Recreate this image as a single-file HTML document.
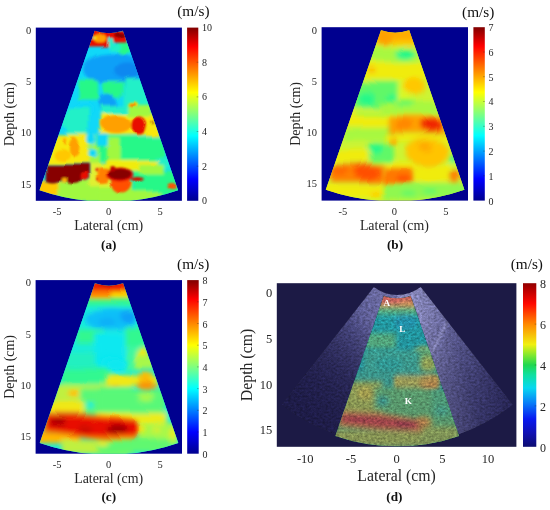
<!DOCTYPE html><html><head><meta charset="utf-8"><title>Figure</title>
<style>html,body{margin:0;padding:0;background:#fff}svg{display:block}text{font-family:'Liberation Serif', 'DejaVu Serif', serif}</style></head><body>
<svg width="550" height="510" viewBox="0 0 550 510">
<defs>
<linearGradient id="jet" x1="0" y1="1" x2="0" y2="0"><stop offset="0" stop-color="rgb(0,0,143)"/><stop offset="0.125" stop-color="rgb(0,0,255)"/><stop offset="0.375" stop-color="rgb(0,255,255)"/><stop offset="0.625" stop-color="rgb(255,255,0)"/><stop offset="0.89" stop-color="rgb(255,0,0)"/><stop offset="1" stop-color="rgb(128,0,0)"/></linearGradient>
<linearGradient id="jetd" x1="0" y1="1" x2="0" y2="0"><stop offset="0" stop-color="#0c0c70"/><stop offset="0.08" stop-color="#1010b0"/><stop offset="0.17" stop-color="#0818f0"/><stop offset="0.27" stop-color="#0880f8"/><stop offset="0.36" stop-color="#08d8f0"/><stop offset="0.44" stop-color="#10e0a0"/><stop offset="0.5" stop-color="#20d850"/><stop offset="0.56" stop-color="#80e830"/><stop offset="0.625" stop-color="#f0f010"/><stop offset="0.75" stop-color="#ff8800"/><stop offset="0.875" stop-color="#ff0800"/><stop offset="0.95" stop-color="#c00000"/><stop offset="1" stop-color="#900000"/></linearGradient><filter id="spk" x="0" y="0" width="100%" height="100%" color-interpolation-filters="sRGB"><feTurbulence type="fractalNoise" baseFrequency="0.35 0.5" numOctaves="2" seed="4" result="n"/><feColorMatrix in="n" type="matrix" values="1 0 0 0 0  1 0 0 0 0  1 0 0 0 0  0 0 0 0 1" result="g"/><feComposite in="SourceGraphic" in2="g" operator="arithmetic" k1="0.7" k2="0.66" k3="0" k4="0"/></filter><linearGradient id="bm" gradientUnits="userSpaceOnUse" x1="282" y1="0" x2="515" y2="0"><stop offset="0.000" stop-color="#44437a"/><stop offset="0.292" stop-color="#4e4e86"/><stop offset="0.399" stop-color="#5e5e96"/><stop offset="0.635" stop-color="#66669a"/><stop offset="0.807" stop-color="#56568c"/><stop offset="1.000" stop-color="#44437e"/></linearGradient><radialGradient id="bm2" gradientUnits="userSpaceOnUse" cx="397.3" cy="257" r="188"><stop offset="0.22" stop-color="#9a9ac8" stop-opacity="0.18"/><stop offset="0.45" stop-color="#8080b0" stop-opacity="0.05"/><stop offset="1" stop-color="#1c1a45" stop-opacity="0.2"/></radialGradient><linearGradient id="bm3" gradientUnits="userSpaceOnUse" x1="385" y1="330" x2="295" y2="400"><stop offset="0.1" stop-color="#1c1a45" stop-opacity="0"/><stop offset="0.35" stop-color="#1c1a45" stop-opacity="0.35"/><stop offset="0.55" stop-color="#1c1a45" stop-opacity="0.62"/><stop offset="0.8" stop-color="#1c1a45" stop-opacity="0.82"/><stop offset="1" stop-color="#1c1a45" stop-opacity="0.92"/></linearGradient><linearGradient id="bm4" gradientUnits="userSpaceOnUse" x1="435" y1="366" x2="492" y2="347"><stop offset="0" stop-color="#a8a8d8" stop-opacity="0.42"/><stop offset="0.35" stop-color="#a0a0d0" stop-opacity="0.12"/><stop offset="0.55" stop-color="#1c1a45" stop-opacity="0.0"/><stop offset="1" stop-color="#1c1a45" stop-opacity="0.38"/></linearGradient><linearGradient id="bm5" gradientUnits="userSpaceOnUse" x1="0" y1="315" x2="0" y2="445"><stop offset="0" stop-color="#1c1a45" stop-opacity="0"/><stop offset="0.5" stop-color="#1c1a45" stop-opacity="0.38"/><stop offset="1" stop-color="#1c1a45" stop-opacity="0.55"/></linearGradient><clipPath id="rhalf"><rect x="397" y="280" width="125" height="170"/></clipPath>
<filter id="b0_6" x="-20%" y="-20%" width="140%" height="140%"><feGaussianBlur stdDeviation="0.6"/></filter>
<filter id="b1" x="-20%" y="-20%" width="140%" height="140%"><feGaussianBlur stdDeviation="1"/></filter>
<filter id="b1_5" x="-20%" y="-20%" width="140%" height="140%"><feGaussianBlur stdDeviation="1.5"/></filter>
<filter id="b2" x="-20%" y="-20%" width="140%" height="140%"><feGaussianBlur stdDeviation="2"/></filter>
<filter id="b2_5" x="-20%" y="-20%" width="140%" height="140%"><feGaussianBlur stdDeviation="2.5"/></filter>
<filter id="b3" x="-20%" y="-20%" width="140%" height="140%"><feGaussianBlur stdDeviation="3"/></filter>
<filter id="b4" x="-20%" y="-20%" width="140%" height="140%"><feGaussianBlur stdDeviation="4"/></filter>
<filter id="b5" x="-20%" y="-20%" width="140%" height="140%"><feGaussianBlur stdDeviation="5"/></filter>
<filter id="warp0" filterUnits="userSpaceOnUse" x="0" y="0" width="550" height="510" color-interpolation-filters="sRGB"><feTurbulence type="fractalNoise" baseFrequency="0.028" numOctaves="1" seed="2" result="t"/><feDisplacementMap in="SourceGraphic" in2="t" scale="9" xChannelSelector="R" yChannelSelector="G"/></filter>
<filter id="warp1" filterUnits="userSpaceOnUse" x="0" y="0" width="550" height="510" color-interpolation-filters="sRGB"><feTurbulence type="fractalNoise" baseFrequency="0.028" numOctaves="1" seed="5" result="t"/><feDisplacementMap in="SourceGraphic" in2="t" scale="9" xChannelSelector="R" yChannelSelector="G"/></filter>
<filter id="warp2" filterUnits="userSpaceOnUse" x="0" y="0" width="550" height="510" color-interpolation-filters="sRGB"><feTurbulence type="fractalNoise" baseFrequency="0.028" numOctaves="1" seed="9" result="t"/><feDisplacementMap in="SourceGraphic" in2="t" scale="9" xChannelSelector="R" yChannelSelector="G"/></filter>
</defs>
<rect width="550" height="510" fill="#fff"/>
<rect x="35.8" y="27.6" width="146.1" height="173.2" fill="#00008f"/>
<clipPath id="box0"><rect x="35.8" y="27.6" width="146.1" height="173.2"/></clipPath>
<g clip-path="url(#box0)">
<clipPath id="sec0"><path d="M94.69 30.73 A43.20 43.20 0 0 0 122.91 30.73 L178.10 190.36 A212.10 212.10 0 0 1 39.50 190.36 Z"/></clipPath>
<g clip-path="url(#sec0)">
<rect x="35.8" y="27.6" width="146.1" height="173.2" fill="#10d8f8"/>
<g filter="url(#warp0)">
<rect x="25.8" y="17.6" width="166.1" height="193.2" fill="#10d8f8"/>
<g filter="url(#b1_5)">
<ellipse cx="111.4" cy="69.1" rx="27.5" ry="15.7" fill="#10a0f8"/>
<rect x="116.9" y="59.3" width="27.5" height="21.6" fill="#10a0f8"/>
<ellipse cx="125.7" cy="71.1" rx="12.7" ry="7.8" fill="#1088f0"/>
<rect x="77.6" y="80.9" width="21.6" height="19.6" fill="#28f888"/>
<rect x="77.6" y="78.9" width="17.6" height="6.9" fill="#28f888"/>
<rect x="104.1" y="81.9" width="19.6" height="11.8" fill="#28f888"/>
<ellipse cx="115.9" cy="89.7" rx="6.9" ry="7.8" fill="#28f888"/>
<ellipse cx="108.0" cy="103.4" rx="9.8" ry="9.8" fill="#10a0f8"/>
<ellipse cx="83.5" cy="111.3" rx="9.8" ry="7.8" fill="#10d8f8"/>
<rect x="124.7" y="77.9" width="27.5" height="31.4" fill="#20f0c8"/>
<ellipse cx="122.4" cy="47.5" rx="8.2" ry="7.5" fill="#28f888"/>
<rect x="109.0" y="43.6" width="9.8" height="6.9" fill="#20f0c8"/>
<ellipse cx="71.8" cy="121.1" rx="11.8" ry="7.8" fill="#20f0c8"/>
</g>
<g filter="url(#b1)">
<rect x="89.4" y="28.9" width="18.6" height="17.6" fill="#e81000"/>
<ellipse cx="100.6" cy="38.3" rx="5.9" ry="4.3" fill="#ffa000"/>
<ellipse cx="95.7" cy="37.9" rx="2.0" ry="1.6" fill="#f8e808"/>
<ellipse cx="93.9" cy="37.9" rx="0.8" ry="0.8" fill="#10d8f8"/>
<rect x="112.0" y="28.9" width="13.7" height="12.7" fill="#e81000"/>
<ellipse cx="118.8" cy="33.8" rx="6.3" ry="2.9" fill="#880000"/>
<rect x="106.7" y="28.9" width="6.7" height="8.2" fill="#e81000"/>
<ellipse cx="110.2" cy="42.3" rx="2.4" ry="4.7" fill="#20f0c8"/>
<ellipse cx="133.7" cy="104.0" rx="4.7" ry="3.5" fill="#f8e808"/>
<ellipse cx="133.3" cy="104.0" rx="2.9" ry="2.2" fill="#ff7000"/>
</g>
<g filter="url(#b1_5)">
<rect x="68.2" y="108.9" width="20.6" height="26.5" fill="#20f0c8"/>
<rect x="45.7" y="135.4" width="43.1" height="28.4" fill="#f8e808"/>
<rect x="37.8" y="179.5" width="33.3" height="15.7" fill="#ffc800"/>
<rect x="59.4" y="180.5" width="72.5" height="22.5" fill="#a0f840"/>
<rect x="88.8" y="136.4" width="11.8" height="27.5" fill="#a0f840"/>
<ellipse cx="92.7" cy="153.0" rx="4.3" ry="4.3" fill="#10d8f8"/>
<ellipse cx="92.7" cy="140.3" rx="4.9" ry="4.9" fill="#10d8f8"/>
<rect x="98.6" y="136.4" width="33.3" height="25.5" fill="#28f888"/>
<rect x="112.4" y="157.9" width="19.6" height="10.8" fill="#f8e808"/>
<rect x="88.8" y="163.8" width="23.5" height="23.5" fill="#e0f030"/>
</g>
<g filter="url(#b1)">
<ellipse cx="74.1" cy="147.2" rx="5.3" ry="9.4" fill="#ffa000"/>
<ellipse cx="64.5" cy="140.7" rx="1.6" ry="2.7" fill="#ffa000"/>
<ellipse cx="61.4" cy="154.0" rx="7.8" ry="5.9" fill="#ffc800"/>
<rect x="46.7" y="163.8" width="42.2" height="16.3" fill="#880000"/>
<ellipse cx="74.1" cy="180.5" rx="7.5" ry="3.5" fill="#880000"/>
<ellipse cx="53.5" cy="178.5" rx="6.9" ry="2.9" fill="#880000"/>
<ellipse cx="64.5" cy="179.1" rx="2.7" ry="2.4" fill="#ffb000"/>
<ellipse cx="84.5" cy="177.2" rx="3.9" ry="4.7" fill="#e81000"/>
<ellipse cx="102.2" cy="176.6" rx="6.3" ry="7.1" fill="#ffa000"/>
<ellipse cx="96.3" cy="170.7" rx="1.8" ry="1.8" fill="#e81000"/>
<ellipse cx="97.8" cy="179.9" rx="1.8" ry="1.8" fill="#e81000"/>
</g>
<g filter="url(#b1_5)">
<rect x="100.0" y="112.8" width="58.8" height="22.5" fill="#f8e808"/>
<rect x="107.8" y="136.4" width="56.9" height="24.5" fill="#28f888"/>
<rect x="105.9" y="138.3" width="13.7" height="22.5" fill="#a0f840"/>
<rect x="98.0" y="134.4" width="9.8" height="11.8" fill="#10d8f8"/>
<rect x="155.9" y="157.0" width="14.7" height="11.8" fill="#20f0c8"/>
<rect x="103.9" y="159.9" width="54.9" height="11.4" fill="#f0ec10"/>
<rect x="132.4" y="170.7" width="50.0" height="24.5" fill="#28f888"/>
<rect x="139.2" y="163.8" width="25.5" height="9.8" fill="#a0f840"/>
<rect x="98.0" y="191.3" width="62.7" height="11.8" fill="#a0f840"/>
<rect x="100.0" y="105.0" width="29.4" height="8.8" fill="#20f0c8"/>
<rect x="129.4" y="105.0" width="21.6" height="11.8" fill="#a0f840"/>
</g>
<g filter="url(#b1)">
<ellipse cx="116.7" cy="124.6" rx="16.7" ry="9.4" fill="#ffa000"/>
<ellipse cx="140.2" cy="125.6" rx="7.1" ry="9.0" fill="#e81000"/>
<ellipse cx="152.0" cy="129.5" rx="5.5" ry="4.9" fill="#f8e808"/>
<ellipse cx="152.9" cy="122.3" rx="1.4" ry="1.0" fill="#880000"/>
<rect x="98.0" y="168.7" width="9.8" height="14.7" fill="#ff8000"/>
<ellipse cx="120.6" cy="183.4" rx="9.8" ry="10.2" fill="#ff5000"/>
<ellipse cx="119.6" cy="174.6" rx="13.7" ry="7.1" fill="#e81000"/>
<ellipse cx="119.6" cy="174.0" rx="11.8" ry="5.5" fill="#880000"/>
<ellipse cx="137.3" cy="179.1" rx="6.7" ry="2.0" fill="#d01000"/>
<ellipse cx="111.8" cy="168.7" rx="2.7" ry="2.7" fill="#c00000"/>
<ellipse cx="171.8" cy="184.4" rx="4.3" ry="2.5" fill="#ff5000"/>
</g>
</g>
</g>
</g>
<rect x="187.1" y="27.6" width="11.2" height="173.2" fill="url(#jet)"/>
<text x="202.1" y="204.3" font-size="10" text-anchor="start" font-weight="normal" fill="#262626">0</text>
<text x="202.1" y="169.66" font-size="10" text-anchor="start" font-weight="normal" fill="#262626">2</text>
<path d="M198.3 166.2h-1.6" stroke="#262626" stroke-width="0.5" stroke-opacity="0.7"/>
<text x="202.1" y="135.02" font-size="10" text-anchor="start" font-weight="normal" fill="#262626">4</text>
<path d="M198.3 131.5h-1.6" stroke="#262626" stroke-width="0.5" stroke-opacity="0.7"/>
<text x="202.1" y="100.38" font-size="10" text-anchor="start" font-weight="normal" fill="#262626">6</text>
<path d="M198.3 96.9h-1.6" stroke="#262626" stroke-width="0.5" stroke-opacity="0.7"/>
<text x="202.1" y="65.74" font-size="10" text-anchor="start" font-weight="normal" fill="#262626">8</text>
<path d="M198.3 62.2h-1.6" stroke="#262626" stroke-width="0.5" stroke-opacity="0.7"/>
<text x="202.1" y="31.1" font-size="10" text-anchor="start" font-weight="normal" fill="#262626">10</text>
<text x="193.4" y="16.3" font-size="15.3" text-anchor="middle" font-weight="normal" fill="#111">(m/s)</text>
<text x="31.3" y="33.865" font-size="10.5" text-anchor="end" font-weight="normal" fill="#262626">0</text>
<text x="31.3" y="85.165" font-size="10.5" text-anchor="end" font-weight="normal" fill="#262626">5</text>
<text x="31.3" y="136.465" font-size="10.5" text-anchor="end" font-weight="normal" fill="#262626">10</text>
<text x="31.3" y="187.765" font-size="10.5" text-anchor="end" font-weight="normal" fill="#262626">15</text>
<text x="57.2" y="215" font-size="10.5" text-anchor="middle" font-weight="normal" fill="#262626">-5</text>
<text x="108.7" y="215" font-size="10.5" text-anchor="middle" font-weight="normal" fill="#262626">0</text>
<text x="160.2" y="215" font-size="10.5" text-anchor="middle" font-weight="normal" fill="#262626">5</text>
<text x="14.5" y="114.2" font-size="13.9" text-anchor="middle" font-weight="normal" fill="#262626" transform="rotate(-90 14.5 114.2)">Depth (cm)</text>
<text x="108.7" y="229.5" font-size="13.9" text-anchor="middle" font-weight="normal" fill="#262626">Lateral (cm)</text>
<text x="108.8" y="249" font-size="13.2" text-anchor="middle" font-weight="bold" fill="#111">(a)</text>
<rect x="321.6" y="27.2" width="146.4" height="173.4" fill="#00008f"/>
<clipPath id="box1"><rect x="321.6" y="27.2" width="146.4" height="173.4"/></clipPath>
<g clip-path="url(#box1)">
<clipPath id="sec1"><path d="M380.99 30.23 A43.20 43.20 0 0 0 409.21 30.23 L464.40 189.86 A212.10 212.10 0 0 1 325.80 189.86 Z"/></clipPath>
<g clip-path="url(#sec1)">
<rect x="321.6" y="27.2" width="146.4" height="173.4" fill="#ccf434"/>
<g filter="url(#warp1)">
<rect x="311.6" y="17.2" width="166.4" height="193.4" fill="#ccf434"/>
<g filter="url(#b2_5)">
<rect x="374.4" y="28.9" width="41.2" height="15.7" fill="#ffc800"/>
<rect x="374.4" y="27.9" width="41.2" height="11.2" fill="#ffac00"/>
<ellipse cx="385.2" cy="38.7" rx="7.8" ry="7.8" fill="#ffa000"/>
<rect x="368.5" y="48.1" width="51.0" height="13.1" fill="#a8f840"/>
<ellipse cx="405.8" cy="53.4" rx="9.4" ry="5.9" fill="#28f888"/>
<rect x="364.6" y="63.2" width="62.7" height="16.7" fill="#f0ec10"/>
<ellipse cx="372.5" cy="71.1" rx="4.3" ry="2.7" fill="#ffb000"/>
<rect x="352.8" y="81.9" width="45.1" height="26.5" fill="#60f868"/>
<ellipse cx="366.6" cy="97.5" rx="8.8" ry="6.9" fill="#28f888"/>
<ellipse cx="392.1" cy="99.1" rx="5.9" ry="3.5" fill="#28f888"/>
<rect x="397.9" y="79.9" width="11.8" height="27.5" fill="#d8f828"/>
<ellipse cx="413.6" cy="86.8" rx="10.8" ry="8.8" fill="#ffc800"/>
<rect x="399.9" y="103.0" width="35.3" height="8.2" fill="#a8f840"/>
<rect x="345.0" y="108.3" width="46.1" height="18.6" fill="#e8f020"/>
<rect x="356.8" y="111.3" width="27.5" height="5.9" fill="#a8f840"/>
</g>
<g filter="url(#b2_5)">
<rect x="344.4" y="126.6" width="49.0" height="13.7" fill="#a8f840"/>
<rect x="342.5" y="116.8" width="47.1" height="9.8" fill="#f0ec10"/>
<rect x="367.9" y="142.3" width="25.5" height="19.6" fill="#60f868"/>
<ellipse cx="373.8" cy="147.7" rx="7.8" ry="5.5" fill="#28f888"/>
<rect x="334.6" y="150.1" width="33.3" height="13.7" fill="#f0ec10"/>
<rect x="383.6" y="161.9" width="33.3" height="11.8" fill="#f0ec10"/>
<rect x="322.8" y="183.4" width="76.5" height="14.7" fill="#f0ec10"/>
<rect x="397.4" y="185.4" width="19.6" height="15.7" fill="#a8f840"/>
<ellipse cx="375.8" cy="193.6" rx="5.9" ry="2.4" fill="#ffc800"/>
</g>
<g filter="url(#b2_5)">
<rect x="330.7" y="164.8" width="52.9" height="17.1" fill="#ff8000"/>
<ellipse cx="367.0" cy="171.7" rx="13.7" ry="7.5" fill="#ff5000"/>
<ellipse cx="340.5" cy="170.7" rx="7.8" ry="4.3" fill="#ff6800"/>
<rect x="383.6" y="174.0" width="29.4" height="9.4" fill="#ffa000"/>
<ellipse cx="393.4" cy="141.3" rx="4.3" ry="2.7" fill="#ffa000"/>
</g>
<g filter="url(#b2_5)">
<rect x="381.1" y="103.0" width="58.8" height="11.8" fill="#a8f840"/>
<ellipse cx="404.6" cy="105.0" rx="9.8" ry="2.7" fill="#60f868"/>
<rect x="385.0" y="134.4" width="64.7" height="7.8" fill="#f0ec10"/>
<rect x="412.5" y="163.8" width="39.2" height="19.6" fill="#f0ec10"/>
<rect x="383.0" y="183.4" width="84.3" height="17.6" fill="#90f850"/>
<ellipse cx="408.5" cy="195.2" rx="7.8" ry="2.7" fill="#60f868"/>
<ellipse cx="430.1" cy="193.2" rx="7.8" ry="2.7" fill="#60f868"/>
<ellipse cx="387.0" cy="154.0" rx="4.3" ry="5.9" fill="#60f868"/>
<ellipse cx="451.7" cy="158.9" rx="3.1" ry="5.1" fill="#40f890"/>
</g>
<g filter="url(#b2_5)">
<rect x="387.9" y="116.8" width="55.9" height="17.6" fill="#ffa000"/>
<ellipse cx="432.1" cy="125.6" rx="10.2" ry="7.1" fill="#f02800"/>
<ellipse cx="404.6" cy="125.6" rx="9.8" ry="5.9" fill="#ff8800"/>
<ellipse cx="427.2" cy="152.1" rx="20.6" ry="13.3" fill="#ffc400"/>
<ellipse cx="425.2" cy="146.2" rx="5.9" ry="4.3" fill="#ffa800"/>
<ellipse cx="393.8" cy="141.3" rx="3.5" ry="2.4" fill="#ffa000"/>
<rect x="383.0" y="168.1" width="29.4" height="15.3" fill="#ff7800"/>
<ellipse cx="403.6" cy="179.5" rx="7.8" ry="3.5" fill="#ff5000"/>
<ellipse cx="455.2" cy="176.6" rx="4.7" ry="7.1" fill="#ff8000"/>
</g>
</g>
</g>
</g>
<rect x="473.4" y="27.2" width="11.4" height="173.4" fill="url(#jet)"/>
<text x="488.6" y="204.5" font-size="10" text-anchor="start" font-weight="normal" fill="#262626">0</text>
<text x="488.6" y="179.729" font-size="10" text-anchor="start" font-weight="normal" fill="#262626">1</text>
<path d="M484.8 175.8h-1.6" stroke="#262626" stroke-width="0.5" stroke-opacity="0.7"/>
<text x="488.6" y="154.957" font-size="10" text-anchor="start" font-weight="normal" fill="#262626">2</text>
<path d="M484.8 151.1h-1.6" stroke="#262626" stroke-width="0.5" stroke-opacity="0.7"/>
<text x="488.6" y="130.186" font-size="10" text-anchor="start" font-weight="normal" fill="#262626">3</text>
<path d="M484.8 126.3h-1.6" stroke="#262626" stroke-width="0.5" stroke-opacity="0.7"/>
<text x="488.6" y="105.414" font-size="10" text-anchor="start" font-weight="normal" fill="#262626">4</text>
<path d="M484.8 101.5h-1.6" stroke="#262626" stroke-width="0.5" stroke-opacity="0.7"/>
<text x="488.6" y="80.6429" font-size="10" text-anchor="start" font-weight="normal" fill="#262626">5</text>
<path d="M484.8 76.7h-1.6" stroke="#262626" stroke-width="0.5" stroke-opacity="0.7"/>
<text x="488.6" y="55.8714" font-size="10" text-anchor="start" font-weight="normal" fill="#262626">6</text>
<path d="M484.8 52.0h-1.6" stroke="#262626" stroke-width="0.5" stroke-opacity="0.7"/>
<text x="488.6" y="31.1" font-size="10" text-anchor="start" font-weight="normal" fill="#262626">7</text>
<text x="478.2" y="16.5" font-size="15.3" text-anchor="middle" font-weight="normal" fill="#111">(m/s)</text>
<text x="317.1" y="33.565" font-size="10.5" text-anchor="end" font-weight="normal" fill="#262626">0</text>
<text x="317.1" y="84.865" font-size="10.5" text-anchor="end" font-weight="normal" fill="#262626">5</text>
<text x="317.1" y="136.165" font-size="10.5" text-anchor="end" font-weight="normal" fill="#262626">10</text>
<text x="317.1" y="187.465" font-size="10.5" text-anchor="end" font-weight="normal" fill="#262626">15</text>
<text x="342.9" y="215" font-size="10.5" text-anchor="middle" font-weight="normal" fill="#262626">-5</text>
<text x="394.4" y="215" font-size="10.5" text-anchor="middle" font-weight="normal" fill="#262626">0</text>
<text x="445.9" y="215" font-size="10.5" text-anchor="middle" font-weight="normal" fill="#262626">5</text>
<text x="300.5" y="113.9" font-size="13.9" text-anchor="middle" font-weight="normal" fill="#262626" transform="rotate(-90 300.5 113.9)">Depth (cm)</text>
<text x="394.4" y="229.5" font-size="13.9" text-anchor="middle" font-weight="normal" fill="#262626">Lateral (cm)</text>
<text x="395" y="249" font-size="13.2" text-anchor="middle" font-weight="bold" fill="#111">(b)</text>
<rect x="35.6" y="280.1" width="146.4" height="173.6" fill="#00008f"/>
<clipPath id="box2"><rect x="35.6" y="280.1" width="146.4" height="173.6"/></clipPath>
<g clip-path="url(#box2)">
<clipPath id="sec2"><path d="M94.89 283.33 A43.20 43.20 0 0 0 123.11 283.33 L178.30 442.96 A212.10 212.10 0 0 1 39.70 442.96 Z"/></clipPath>
<g clip-path="url(#sec2)">
<rect x="35.6" y="280.1" width="146.4" height="173.6" fill="#18ecdc"/>
<g filter="url(#warp2)">
<rect x="25.6" y="270.1" width="166.4" height="193.6" fill="#18ecdc"/>
<g filter="url(#b2_5)">
<rect x="83.5" y="299.2" width="51.0" height="6.7" fill="#30f890"/>
<ellipse cx="111.0" cy="319.2" rx="24.5" ry="11.4" fill="#10c0f8"/>
<ellipse cx="126.7" cy="316.2" rx="8.8" ry="6.9" fill="#10a0f8"/>
<ellipse cx="107.1" cy="322.1" rx="7.8" ry="4.9" fill="#10b0f8"/>
<rect x="77.6" y="330.5" width="27.5" height="14.5" fill="#30f890"/>
<rect x="124.7" y="327.0" width="21.6" height="18.6" fill="#30f890"/>
<rect x="96.3" y="333.9" width="27.5" height="34.3" fill="#10e8f0"/>
<rect x="60.0" y="352.5" width="36.3" height="27.5" fill="#20f0c0"/>
<rect x="124.7" y="345.6" width="12.7" height="24.5" fill="#40f8a0"/>
<ellipse cx="142.4" cy="355.5" rx="6.9" ry="9.4" fill="#d0f030"/>
<ellipse cx="143.3" cy="353.5" rx="3.5" ry="4.9" fill="#f0e818"/>
</g>
<g filter="url(#b2)">
<rect x="87.5" y="295.3" width="43.1" height="4.3" fill="#f0e818"/>
<rect x="87.5" y="288.8" width="25.5" height="8.8" fill="#ff8000"/>
<rect x="111.0" y="290.2" width="19.6" height="7.1" fill="#ffd000"/>
<rect x="87.5" y="280.0" width="43.1" height="10.6" fill="#f02000"/>
<rect x="109.0" y="280.0" width="21.6" height="12.5" fill="#f02000"/>
<ellipse cx="109.0" cy="283.9" rx="11.8" ry="2.4" fill="#c00000"/>
</g>
<g filter="url(#b2_5)">
<rect x="59.4" y="367.8" width="49.0" height="16.7" fill="#30f890"/>
<ellipse cx="112.4" cy="361.9" rx="11.8" ry="5.9" fill="#10e8f0"/>
<rect x="53.5" y="383.5" width="54.9" height="18.0" fill="#c0f040"/>
<rect x="81.0" y="387.4" width="51.0" height="27.8" fill="#58f878"/>
<ellipse cx="92.7" cy="405.1" rx="5.1" ry="3.9" fill="#20f0d0"/>
<rect x="45.7" y="401.5" width="40.2" height="15.3" fill="#f0e818"/>
<ellipse cx="74.1" cy="393.3" rx="6.3" ry="3.9" fill="#ffc000"/>
<rect x="107.5" y="376.0" width="24.5" height="9.4" fill="#f0e818"/>
<ellipse cx="114.3" cy="383.5" rx="4.9" ry="2.0" fill="#ff9000"/>
<rect x="35.9" y="430.9" width="44.1" height="12.4" fill="#ffb800"/>
<rect x="59.4" y="438.8" width="72.5" height="15.3" fill="#c0f040"/>
<rect x="108.4" y="438.8" width="23.5" height="12.4" fill="#90f850"/>
</g>
<g filter="url(#b2_5)">
<ellipse cx="115.7" cy="363.9" rx="9.8" ry="4.9" fill="#10e8f0"/>
<rect x="135.3" y="356.0" width="21.6" height="13.7" fill="#a8f848"/>
<rect x="105.9" y="375.3" width="52.9" height="10.6" fill="#f0e818"/>
<rect x="98.0" y="389.4" width="66.7" height="23.9" fill="#58f878"/>
<ellipse cx="145.1" cy="397.2" rx="7.8" ry="4.3" fill="#a8f848"/>
<ellipse cx="165.7" cy="414.9" rx="3.9" ry="4.9" fill="#20f0c0"/>
<rect x="98.0" y="412.9" width="68.6" height="11.0" fill="#ecec18"/>
<rect x="138.2" y="423.1" width="40.2" height="22.2" fill="#a8f848"/>
<ellipse cx="156.9" cy="429.6" rx="2.7" ry="2.4" fill="#f0e818"/>
<ellipse cx="172.9" cy="432.5" rx="3.1" ry="5.5" fill="#f0e818"/>
<rect x="98.0" y="438.8" width="72.5" height="15.3" fill="#60f870"/>
<ellipse cx="103.9" cy="442.7" rx="5.9" ry="2.7" fill="#f0e818"/>
</g>
<g filter="url(#b2_5)">
<ellipse cx="147.1" cy="385.5" rx="9.4" ry="4.3" fill="#ff9000"/>
<ellipse cx="147.1" cy="376.6" rx="7.1" ry="3.9" fill="#ffb800"/>
<ellipse cx="115.7" cy="429.0" rx="29.4" ry="9.8" fill="#f0e818"/>
<ellipse cx="113.7" cy="428.6" rx="24.5" ry="8.6" fill="#ff9000"/>
<ellipse cx="109.8" cy="429.0" rx="18.6" ry="7.8" fill="#e81000"/>
<ellipse cx="116.7" cy="429.0" rx="5.9" ry="3.9" fill="#a00000"/>
</g>
<g filter="url(#b2_5)">
<polygon points="41.8,413.3 88.8,413.9 135.9,419.2 135.9,440.0 88.8,438.0 41.8,433.5" fill="#ff9000"/>
<polygon points="44.7,416.0 88.8,416.4 135.9,421.1 135.9,436.8 88.8,435.5 44.7,430.2" fill="#e81000"/>
<ellipse cx="57.5" cy="422.3" rx="8.8" ry="3.1" fill="#a00000"/>
<ellipse cx="116.3" cy="429.6" rx="9.8" ry="4.3" fill="#a00000"/>
<ellipse cx="86.9" cy="428.6" rx="7.8" ry="3.1" fill="#c80800"/>
</g>
</g>
</g>
</g>
<rect x="187.2" y="280.1" width="11.5" height="173.6" fill="url(#jet)"/>
<text x="202.5" y="457.8" font-size="10" text-anchor="start" font-weight="normal" fill="#262626">0</text>
<text x="202.5" y="436.1" font-size="10" text-anchor="start" font-weight="normal" fill="#262626">1</text>
<path d="M198.7 432.0h-1.6" stroke="#262626" stroke-width="0.5" stroke-opacity="0.7"/>
<text x="202.5" y="414.4" font-size="10" text-anchor="start" font-weight="normal" fill="#262626">2</text>
<path d="M198.7 410.3h-1.6" stroke="#262626" stroke-width="0.5" stroke-opacity="0.7"/>
<text x="202.5" y="392.7" font-size="10" text-anchor="start" font-weight="normal" fill="#262626">3</text>
<path d="M198.7 388.6h-1.6" stroke="#262626" stroke-width="0.5" stroke-opacity="0.7"/>
<text x="202.5" y="371" font-size="10" text-anchor="start" font-weight="normal" fill="#262626">4</text>
<path d="M198.7 366.9h-1.6" stroke="#262626" stroke-width="0.5" stroke-opacity="0.7"/>
<text x="202.5" y="349.3" font-size="10" text-anchor="start" font-weight="normal" fill="#262626">5</text>
<path d="M198.7 345.2h-1.6" stroke="#262626" stroke-width="0.5" stroke-opacity="0.7"/>
<text x="202.5" y="327.6" font-size="10" text-anchor="start" font-weight="normal" fill="#262626">6</text>
<path d="M198.7 323.5h-1.6" stroke="#262626" stroke-width="0.5" stroke-opacity="0.7"/>
<text x="202.5" y="305.9" font-size="10" text-anchor="start" font-weight="normal" fill="#262626">7</text>
<path d="M198.7 301.8h-1.6" stroke="#262626" stroke-width="0.5" stroke-opacity="0.7"/>
<text x="202.5" y="284.2" font-size="10" text-anchor="start" font-weight="normal" fill="#262626">8</text>
<text x="193.2" y="268.8" font-size="15.3" text-anchor="middle" font-weight="normal" fill="#111">(m/s)</text>
<text x="31.1" y="286.465" font-size="10.5" text-anchor="end" font-weight="normal" fill="#262626">0</text>
<text x="31.1" y="337.765" font-size="10.5" text-anchor="end" font-weight="normal" fill="#262626">5</text>
<text x="31.1" y="389.065" font-size="10.5" text-anchor="end" font-weight="normal" fill="#262626">10</text>
<text x="31.1" y="440.365" font-size="10.5" text-anchor="end" font-weight="normal" fill="#262626">15</text>
<text x="57.2" y="467.8" font-size="10.5" text-anchor="middle" font-weight="normal" fill="#262626">-5</text>
<text x="108.7" y="467.8" font-size="10.5" text-anchor="middle" font-weight="normal" fill="#262626">0</text>
<text x="160.2" y="467.8" font-size="10.5" text-anchor="middle" font-weight="normal" fill="#262626">5</text>
<text x="14.5" y="366.9" font-size="13.9" text-anchor="middle" font-weight="normal" fill="#262626" transform="rotate(-90 14.5 366.9)">Depth (cm)</text>
<text x="108.7" y="482.5" font-size="13.9" text-anchor="middle" font-weight="normal" fill="#262626">Lateral (cm)</text>
<text x="108.8" y="501" font-size="13.2" text-anchor="middle" font-weight="bold" fill="#111">(c)</text>
<rect x="276.8" y="283.2" width="239.6" height="163.6" fill="#1c1a45"/>
<clipPath id="box3"><rect x="276.8" y="283.2" width="239.6" height="163.6"/></clipPath>
<g clip-path="url(#box3)">
<g filter="url(#spk)">
<path d="M373.90 286.94 A38.00 38.00 0 0 0 420.70 286.94 L512.74 404.75 A187.50 187.50 0 0 1 281.86 404.75 Z" fill="url(#bm)"/>
<path d="M373.90 286.94 A38.00 38.00 0 0 0 420.70 286.94 L512.74 404.75 A187.50 187.50 0 0 1 281.86 404.75 Z" fill="url(#bm2)"/>
<path d="M373.90 286.94 A38.00 38.00 0 0 0 420.70 286.94 L512.74 404.75 A187.50 187.50 0 0 1 281.86 404.75 Z" fill="url(#bm3)"/>
<path d="M373.90 286.94 A38.00 38.00 0 0 0 420.70 286.94 L512.74 404.75 A187.50 187.50 0 0 1 281.86 404.75 Z" fill="url(#bm4)" clip-path="url(#rhalf)"/>
<path d="M373.90 286.94 A38.00 38.00 0 0 0 420.70 286.94 L512.74 404.75 A187.50 187.50 0 0 1 281.86 404.75 Z" fill="url(#bm5)"/>
<path d="M447 322 L432 352" stroke="#a0a0d0" stroke-width="2.5" stroke-opacity="0.6" fill="none" filter="url(#b1)"/>
</g>
<clipPath id="secd"><path d="M383.71 296.03 A41.30 41.30 0 0 0 410.69 296.03 L459.05 435.91 A189.30 189.30 0 0 1 335.35 435.91 Z"/></clipPath>
<g filter="url(#spk)"><g clip-path="url(#secd)">
<rect x="330" y="290" width="135" height="160" fill="#2298a0"/>
<g filter="url(#b2_5)">
<rect x="366.6" y="307.6" width="62.7" height="6.9" fill="#52a87c"/>
<ellipse cx="405.8" cy="322.3" rx="11.8" ry="7.8" fill="#2490a8"/>
<rect x="364.6" y="333.1" width="31.4" height="16.1" fill="#52a87c"/>
<ellipse cx="423.5" cy="355.6" rx="10.8" ry="9.4" fill="#98a855"/>
<ellipse cx="424.5" cy="354.7" rx="6.9" ry="5.9" fill="#b4ac50"/>
<rect x="396.0" y="362.9" width="35.3" height="11.8" fill="#60a870"/>
<rect x="354.8" y="370.4" width="39.2" height="19.6" fill="#3ca090"/>
</g>
<g filter="url(#b2)">
<rect x="376.4" y="304.5" width="41.2" height="3.9" fill="#bca058"/>
<rect x="376.4" y="290.9" width="41.2" height="13.5" fill="#c4605a"/>
<rect x="400.9" y="300.9" width="13.7" height="4.7" fill="#c08858"/>
<rect x="394.1" y="374.3" width="45.1" height="15.7" fill="#b0a048"/>
<ellipse cx="431.3" cy="382.5" rx="7.8" ry="4.9" fill="#c08848"/>
</g>
<g filter="url(#b2_5)">
<rect x="330.0" y="391.2" width="137.3" height="62.7" fill="#60a870"/>
<rect x="363.3" y="350.0" width="68.6" height="25.5" fill="#3ca090"/>
<ellipse cx="388.8" cy="363.8" rx="13.7" ry="6.9" fill="#30a098"/>
<rect x="337.8" y="381.4" width="44.1" height="33.3" fill="#98a855"/>
<ellipse cx="365.3" cy="393.2" rx="7.8" ry="6.3" fill="#b4ac50"/>
<rect x="374.1" y="387.3" width="57.8" height="23.5" fill="#60a870"/>
<ellipse cx="382.9" cy="401.0" rx="5.9" ry="4.9" fill="#3ca090"/>
<rect x="396.7" y="375.9" width="35.3" height="11.4" fill="#a8a858"/>
<ellipse cx="426.1" cy="384.4" rx="5.9" ry="3.5" fill="#c08848"/>
<rect x="330.0" y="430.4" width="102.0" height="15.7" fill="#98a855"/>
<rect x="419.2" y="416.7" width="12.7" height="13.7" fill="#98a855"/>
</g>
<g filter="url(#b2_5)">
<rect x="420.0" y="350.0" width="23.5" height="21.6" fill="#60a870"/>
<ellipse cx="427.8" cy="363.8" rx="7.8" ry="7.8" fill="#98a855"/>
<ellipse cx="429.8" cy="381.4" rx="9.8" ry="5.9" fill="#b89850"/>
<ellipse cx="431.8" cy="384.4" rx="4.9" ry="2.7" fill="#c08848"/>
<rect x="431.8" y="391.2" width="23.5" height="25.5" fill="#52a87c"/>
<ellipse cx="441.6" cy="410.8" rx="5.5" ry="4.7" fill="#48a488"/>
<rect x="420.0" y="426.5" width="39.2" height="17.6" fill="#90a858"/>
<ellipse cx="422.9" cy="422.6" rx="6.9" ry="4.9" fill="#c08848"/>
</g>
<g filter="url(#b2_5)">
<polygon points="337.8,410.8 379.0,412.8 422.2,419.6 422.2,432.4 379.0,430.4 337.8,426.5" fill="#c08848"/>
<polygon points="340.8,413.8 379.0,415.7 418.2,421.6 418.2,429.5 379.0,427.5 340.8,423.0" fill="#b04848"/>
<ellipse cx="404.5" cy="424.2" rx="8.8" ry="3.5" fill="#9c3848"/>
<ellipse cx="359.4" cy="419.6" rx="9.8" ry="2.7" fill="#a84048"/>
</g>
<rect x="330" y="290" width="135" height="160" fill="url(#bm5)" opacity="0.3"/>
</g></g>
<text x="386.9" y="305.6" font-size="9.2" font-weight="bold" fill="#fff" text-anchor="middle">A</text>
<text x="402.3" y="332" font-size="9.2" font-weight="bold" fill="#fff" text-anchor="middle">L</text>
<text x="408.4" y="403.6" font-size="9.2" font-weight="bold" fill="#fff" text-anchor="middle">K</text>
</g>
<rect x="523" y="283.2" width="13.3" height="163.6" fill="url(#jetd)"/>
<text x="540.1" y="451.76" font-size="12" text-anchor="start" font-weight="normal" fill="#262626">0</text>
<text x="540.1" y="410.86" font-size="12" text-anchor="start" font-weight="normal" fill="#262626">2</text>
<path d="M536.3 405.9h-1.6" stroke="#262626" stroke-width="0.5" stroke-opacity="0.7"/>
<text x="540.1" y="369.96" font-size="12" text-anchor="start" font-weight="normal" fill="#262626">4</text>
<path d="M536.3 365.0h-1.6" stroke="#262626" stroke-width="0.5" stroke-opacity="0.7"/>
<text x="540.1" y="329.06" font-size="12" text-anchor="start" font-weight="normal" fill="#262626">6</text>
<path d="M536.3 324.1h-1.6" stroke="#262626" stroke-width="0.5" stroke-opacity="0.7"/>
<text x="540.1" y="288.16" font-size="12" text-anchor="start" font-weight="normal" fill="#262626">8</text>
<text x="526.8" y="269.1" font-size="15.3" text-anchor="middle" font-weight="normal" fill="#111">(m/s)</text>
<text x="272.3" y="297.225" font-size="12.5" text-anchor="end" font-weight="normal" fill="#262626">0</text>
<text x="272.3" y="342.875" font-size="12.5" text-anchor="end" font-weight="normal" fill="#262626">5</text>
<text x="272.3" y="388.525" font-size="12.5" text-anchor="end" font-weight="normal" fill="#262626">10</text>
<text x="272.3" y="434.175" font-size="12.5" text-anchor="end" font-weight="normal" fill="#262626">15</text>
<text x="305.3" y="462.6" font-size="12.5" text-anchor="middle" font-weight="normal" fill="#262626">-10</text>
<text x="350.95" y="462.6" font-size="12.5" text-anchor="middle" font-weight="normal" fill="#262626">-5</text>
<text x="396.6" y="462.6" font-size="12.5" text-anchor="middle" font-weight="normal" fill="#262626">0</text>
<text x="442.25" y="462.6" font-size="12.5" text-anchor="middle" font-weight="normal" fill="#262626">5</text>
<text x="487.9" y="462.6" font-size="12.5" text-anchor="middle" font-weight="normal" fill="#262626">10</text>
<text x="252" y="365" font-size="15.8" text-anchor="middle" font-weight="normal" fill="#262626" transform="rotate(-90 252 365)">Depth (cm)</text>
<text x="396.6" y="481" font-size="15.8" text-anchor="middle" font-weight="normal" fill="#262626">Lateral (cm)</text>
<text x="394.4" y="501.3" font-size="13.2" text-anchor="middle" font-weight="bold" fill="#111">(d)</text>
</svg></body></html>
